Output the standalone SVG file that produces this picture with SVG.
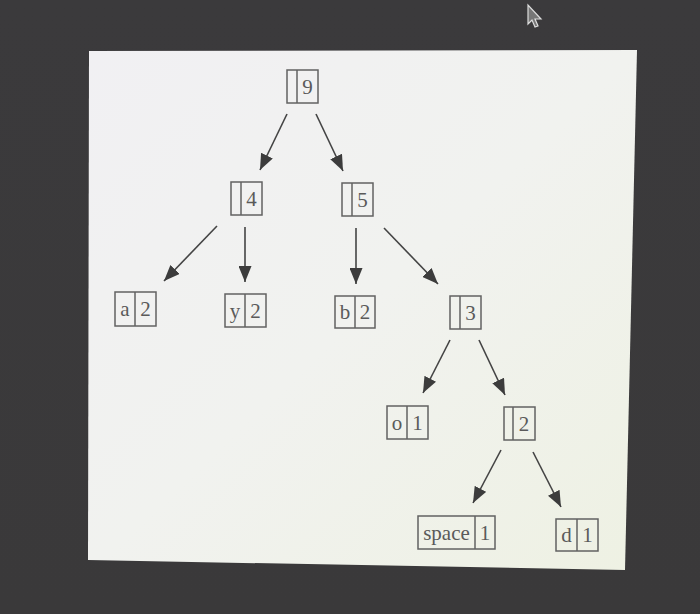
<svg xmlns="http://www.w3.org/2000/svg" width="700" height="614" viewBox="0 0 700 614">
<defs>
<linearGradient id="bg" x1="0" y1="0" x2="0" y2="1">
<stop offset="0" stop-color="#3b3a3c"/>
<stop offset="1" stop-color="#3a393a"/>
</linearGradient>
<linearGradient id="panel" x1="0" y1="0" x2="1" y2="1">
<stop offset="0" stop-color="#f1f0f3"/>
<stop offset="0.5" stop-color="#f1f2ef"/>
<stop offset="1" stop-color="#eef1e3"/>
</linearGradient>
<marker id="ah" markerUnits="userSpaceOnUse" markerWidth="17" markerHeight="13" refX="16" refY="6.5" orient="auto">
<path d="M0,0 L16,6.5 L0,13 Z" fill="#3c3c3c"/>
</marker>
</defs>
<style>
.box{fill:none;stroke:#626262;stroke-width:1.5}
.t{font-family:"Liberation Serif","Times New Roman",serif;font-size:21px;fill:#5a5a5a;text-anchor:middle}
.edge{stroke:#444;stroke-width:1.6;fill:none;marker-end:url(#ah)}
</style>
<rect x="0" y="0" width="700" height="614" fill="url(#bg)"/>
<polygon points="89,51 637,50 625,570 88,560" fill="url(#panel)"/>
<path d="M528,5 L528,24 L532,20 L535,27 L538,26 L535,19 L541,19 Z" fill="#777" stroke="#ddd" stroke-width="1.2"/>

<g id="connectors">
<line class="edge" x1="287" y1="114" x2="260" y2="170"/>
<line class="edge" x1="316" y1="114" x2="343" y2="171"/>
<line class="edge" x1="217" y1="226" x2="164" y2="281"/>
<line class="edge" x1="245" y1="227" x2="245" y2="282"/>
<line class="edge" x1="356" y1="228" x2="356" y2="284"/>
<line class="edge" x1="384" y1="228" x2="438" y2="284"/>
<line class="edge" x1="450" y1="340" x2="423" y2="393"/>
<line class="edge" x1="479" y1="340" x2="505" y2="395"/>
<line class="edge" x1="501" y1="450" x2="473" y2="503"/>
<line class="edge" x1="533" y1="452" x2="561" y2="507"/>
</g>

<g id="n9"><rect class="box" x="287" y="70" width="31" height="33"/><line class="box" x1="297" y1="70" x2="297" y2="103"/><text class="t" x="307.5" y="94">9</text></g>
<g id="n4"><rect class="box" x="231" y="182" width="31" height="33"/><line class="box" x1="241" y1="182" x2="241" y2="215"/><text class="t" x="251.5" y="206">4</text></g>
<g id="n5"><rect class="box" x="342" y="183" width="31" height="33"/><line class="box" x1="352" y1="183" x2="352" y2="216"/><text class="t" x="362.5" y="207">5</text></g>
<g id="na"><rect class="box" x="115" y="292" width="41" height="34"/><line class="box" x1="135" y1="292" x2="135" y2="326"/><text class="t" x="125" y="316">a</text><text class="t" x="145.5" y="316">2</text></g>
<g id="ny"><rect class="box" x="225" y="294" width="41" height="33"/><line class="box" x1="245" y1="294" x2="245" y2="327"/><text class="t" x="235" y="318">y</text><text class="t" x="255.5" y="318">2</text></g>
<g id="nb"><rect class="box" x="335" y="296" width="40" height="32"/><line class="box" x1="355" y1="296" x2="355" y2="328"/><text class="t" x="345" y="319">b</text><text class="t" x="365" y="319">2</text></g>
<g id="n3"><rect class="box" x="450" y="296" width="31" height="33"/><line class="box" x1="460" y1="296" x2="460" y2="329"/><text class="t" x="470.5" y="320">3</text></g>
<g id="no"><rect class="box" x="387" y="406" width="41" height="33"/><line class="box" x1="407" y1="406" x2="407" y2="439"/><text class="t" x="397" y="430">o</text><text class="t" x="417.5" y="430">1</text></g>
<g id="n2"><rect class="box" x="504" y="407" width="31" height="33"/><line class="box" x1="513" y1="407" x2="513" y2="440"/><text class="t" x="524" y="431">2</text></g>
<g id="nspace"><rect class="box" x="418" y="516" width="77" height="33"/><line class="box" x1="475" y1="516" x2="475" y2="549"/><text class="t" x="446.5" y="540">space</text><text class="t" x="485" y="540">1</text></g>
<g id="nd"><rect class="box" x="556" y="519" width="42" height="32"/><line class="box" x1="577" y1="519" x2="577" y2="551"/><text class="t" x="566.5" y="542">d</text><text class="t" x="587.5" y="542">1</text></g>
</svg>
